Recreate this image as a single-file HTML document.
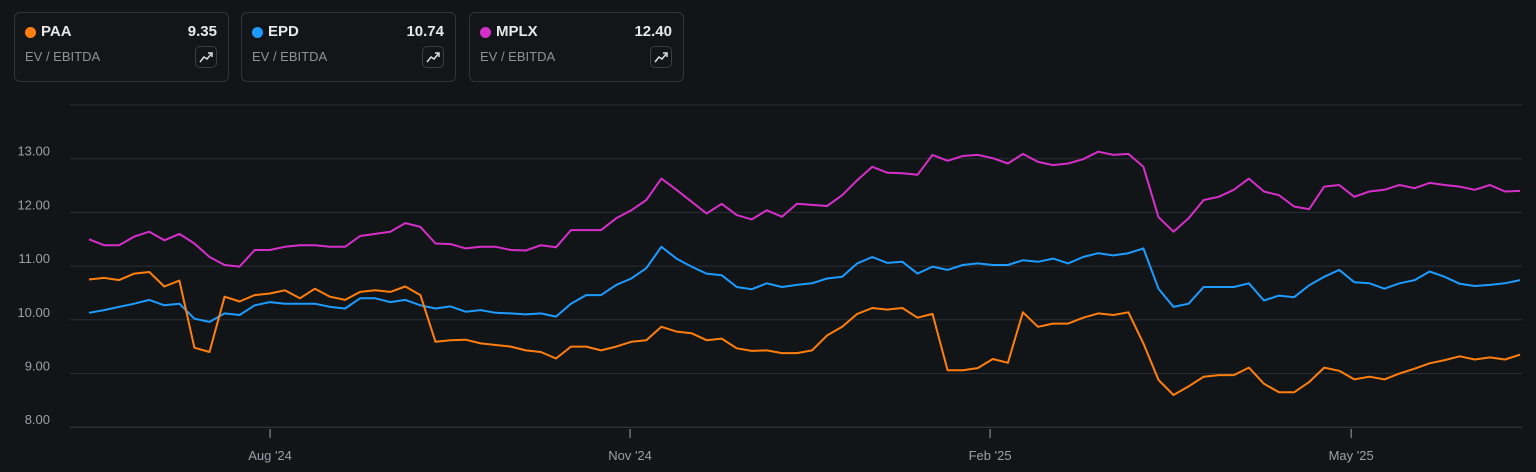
<!DOCTYPE html>
<html><head><meta charset="utf-8">
<style>
html,body{margin:0;padding:0;background:#121518;width:1536px;height:472px;overflow:hidden;font-family:"Liberation Sans",sans-serif;}
.card{position:absolute;top:12px;width:215px;height:70px;border:1px solid #30343a;border-radius:6px;box-sizing:border-box;background:#131619;}
.dot{position:absolute;left:10px;top:14px;width:11px;height:11px;border-radius:50%;}
.nm{position:absolute;left:26px;top:10px;font-weight:bold;font-size:15px;color:#e8e8e8;}
.val{position:absolute;right:11px;top:10px;font-weight:bold;font-size:15px;color:#e8e8e8;}
.sub{position:absolute;left:10px;top:36px;font-size:13px;color:#8e9297;}
.btn{position:absolute;right:11px;top:33px;width:22px;height:22px;border:1px solid #3a3e44;border-radius:5px;box-sizing:border-box;}
</style></head><body>
<div class="card" style="left:14px">
 <div class="dot" style="background:#ff7f0e"></div>
 <div class="nm">PAA</div>
 <div class="val">9.35</div>
 <div class="sub">EV / EBITDA</div>
 <div class="btn"><svg width="20" height="20"><polyline points="4,15 8,10 11,12 16,6" fill="none" stroke="#ddd" stroke-width="1.5"/><polyline points="12,6 16,6 16,10" fill="none" stroke="#ddd" stroke-width="1.5"/></svg></div>
</div>
<div class="card" style="left:241px">
 <div class="dot" style="background:#1e9bff"></div>
 <div class="nm">EPD</div>
 <div class="val">10.74</div>
 <div class="sub">EV / EBITDA</div>
 <div class="btn"><svg width="20" height="20"><polyline points="4,15 8,10 11,12 16,6" fill="none" stroke="#ddd" stroke-width="1.5"/><polyline points="12,6 16,6 16,10" fill="none" stroke="#ddd" stroke-width="1.5"/></svg></div>
</div>
<div class="card" style="left:469px">
 <div class="dot" style="background:#d62fc9"></div>
 <div class="nm">MPLX</div>
 <div class="val">12.40</div>
 <div class="sub">EV / EBITDA</div>
 <div class="btn"><svg width="20" height="20"><polyline points="4,15 8,10 11,12 16,6" fill="none" stroke="#ddd" stroke-width="1.5"/><polyline points="12,6 16,6 16,10" fill="none" stroke="#ddd" stroke-width="1.5"/></svg></div>
</div>
<svg id="chart" width="1536" height="472" style="position:absolute;left:0;top:0"></svg>
<script>
const yTicks=[8,9,10,11,12,13,14];
const yTickLabels=["8.00","9.00","10.00","11.00","12.00","13.00",""];
const xTickIdx=[12.02,35.92,59.82,83.79];
const xTickLabels=["Aug '24","Nov '24","Feb '25","May '25"];
const mplx=[11.50,11.39,11.39,11.55,11.64,11.48,11.60,11.42,11.17,11.02,10.99,11.30,11.30,11.36,11.39,11.39,11.36,11.36,11.56,11.60,11.64,11.80,11.73,11.42,11.41,11.33,11.36,11.36,
11.30,11.29,11.39,11.35,11.67,11.67,11.67,11.89,12.04,12.23,12.63,12.42,12.20,11.98,12.16,11.95,11.87,12.04,11.92,12.16,12.14,12.12,12.32,12.60,12.85,12.74,12.73,12.70,13.07,12.96,13.05,13.07,13.01,
12.91,13.09,12.94,12.88,12.91,12.99,13.13,13.07,13.09,12.85,11.91,11.64,11.89,12.23,12.29,12.42,12.63,12.39,12.32,12.11,12.06,12.48,12.51,12.29,12.39,12.42,12.51,12.45,12.55,12.51,12.48,12.42,12.51,12.39,12.40];
const epd=[10.13,10.18,10.24,10.30,10.37,10.27,10.30,10.02,9.96,10.12,10.09,10.27,10.33,10.30,10.30,10.30,10.24,10.21,10.40,10.40,10.33,10.37,10.27,10.21,10.25,10.15,10.18,10.13,
10.12,10.10,10.12,10.06,10.30,10.46,10.46,10.65,10.77,10.96,11.36,11.14,10.99,10.86,10.83,10.61,10.57,10.68,10.61,10.65,10.68,10.77,10.80,11.05,11.17,11.06,11.08,10.86,10.99,10.93,11.02,11.05,11.02,
11.02,11.11,11.08,11.14,11.05,11.17,11.24,11.20,11.24,11.33,10.58,10.24,10.30,10.61,10.61,10.61,10.68,10.36,10.45,10.42,10.64,10.80,10.93,10.70,10.68,10.58,10.68,10.74,10.90,10.80,10.67,10.63,10.65,10.68,10.74];
const paa=[10.75,10.78,10.74,10.86,10.89,10.62,10.73,9.48,9.40,10.43,10.34,10.46,10.49,10.55,10.40,10.58,10.43,10.37,10.52,10.55,10.52,10.62,10.46,9.59,9.62,9.63,9.56,9.53,
9.50,9.43,9.40,9.28,9.50,9.50,9.43,9.50,9.59,9.62,9.87,9.78,9.75,9.62,9.65,9.47,9.42,9.43,9.38,9.38,9.43,9.71,9.87,10.11,10.22,10.19,10.22,10.04,10.11,9.06,9.06,9.10,9.27,
9.20,10.14,9.87,9.93,9.93,10.04,10.12,10.09,10.14,9.56,8.88,8.60,8.76,8.94,8.97,8.97,9.11,8.81,8.65,8.65,8.84,9.11,9.05,8.89,8.94,8.89,9.00,9.09,9.19,9.25,9.32,9.26,9.30,9.26,9.35];
const NS='http://www.w3.org/2000/svg';
const svg=document.getElementById('chart');
const X0=89,X1=1520,GX0=70,GX1=1522;
function xs(i){return X0+i*(X1-X0)/(mplx.length-1);}
function ys(v){return 158.7+(13-v)*53.7;}
function mk(t,a){const e=document.createElementNS(NS,t);for(const k in a)e.setAttribute(k,a[k]);svg.appendChild(e);return e;}
yTicks.forEach((v,k)=>{
  const l=mk('line',{x1:GX0,x2:GX1,y1:ys(v),y2:ys(v),stroke:v==8?'#3a3d42':'#2b2e33','stroke-width':1});
  
  
  if(yTickLabels[k]){
    const t=mk('text',{x:50,y:ys(v)-3,'text-anchor':'end','font-size':13,fill:'#9aa0a6','font-family':'Liberation Sans, sans-serif'});
    t.textContent=yTickLabels[k];
    
    
  }
});
xTickIdx.forEach((ix,k)=>{
  const x=xs(ix);
  const l=mk('line',{x1:x,x2:x,y1:429,y2:438,stroke:'#9aa0a6','stroke-width':1});
  
  
  const t=mk('text',{x:x,y:460,'text-anchor':'middle','font-size':13,fill:'#9aa0a6','font-family':'Liberation Sans, sans-serif'});
  t.textContent=xTickLabels[k];
  
  
});
[[mplx,'#d62fc9','mplx-line'],[epd,'#1e9bff','epd-line'],[paa,'#ff7f0e','paa-line']].forEach(([d,c,n])=>{
  const p=mk('polyline',{points:d.map((v,i)=>xs(i).toFixed(1)+','+ys(v).toFixed(1)).join(' '),fill:'none',stroke:c,'stroke-width':2,'stroke-linejoin':'round'});
  
  
});
</script>
</body></html>
